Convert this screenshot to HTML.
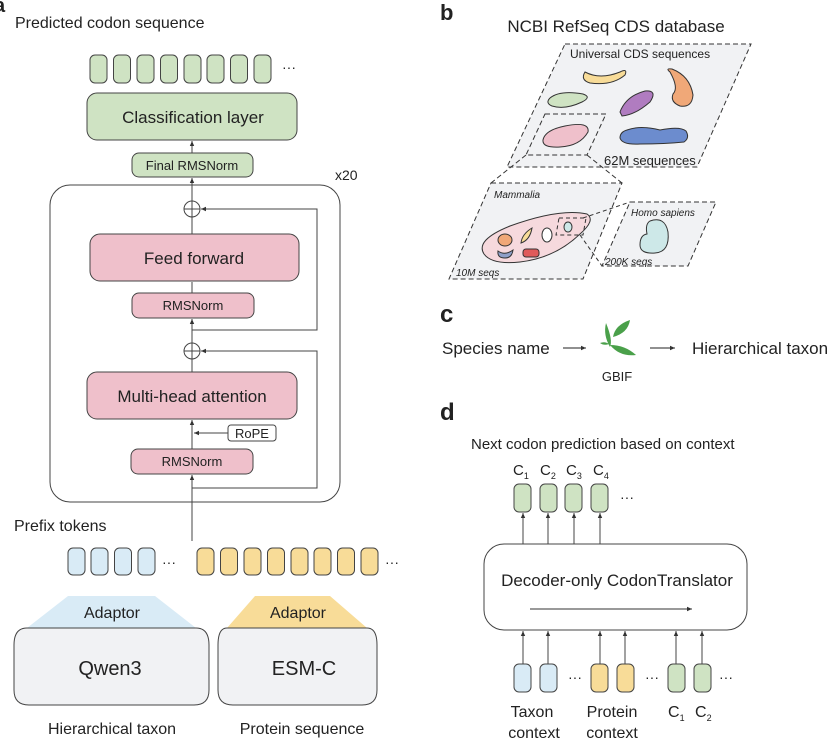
<!DOCTYPE html>
<html><head><meta charset="utf-8"><style>html,body{margin:0;padding:0;background:#fff}svg{display:block}</style></head><body>
<svg width="840" height="748" viewBox="0 0 840 748" xmlns="http://www.w3.org/2000/svg" font-family="Liberation Sans, Arial, sans-serif" fill="#222">
<defs><marker id="ar" markerWidth="6" markerHeight="6" refX="5" refY="3" orient="auto"><path d="M0,0.8 L5,3 L0,5.2z" fill="#333"/></marker></defs>
<text x="-6" y="12" font-size="20" font-weight="bold">a</text>
<text x="15" y="28" font-size="16">Predicted codon sequence</text>
<g fill="#cfe3c3" stroke="#444" stroke-width="1">
<rect x="90" y="55" width="17" height="28" rx="5"/><rect x="113.5" y="55" width="17" height="28" rx="5"/><rect x="137" y="55" width="17" height="28" rx="5"/><rect x="160.5" y="55" width="17" height="28" rx="5"/><rect x="184" y="55" width="17" height="28" rx="5"/><rect x="207" y="55" width="17" height="28" rx="5"/><rect x="230.5" y="55" width="17" height="28" rx="5"/><rect x="254" y="55" width="17" height="28" rx="5"/>
<rect x="87" y="93" width="210" height="47" rx="10"/>
<rect x="132" y="153" width="121" height="24" rx="7"/>
</g>
<text x="282" y="72" font-size="14">···</text>
<text x="193" y="123" font-size="17" text-anchor="middle">Classification layer</text>
<text x="192" y="170" font-size="13" text-anchor="middle">Final RMSNorm</text>
<text x="335" y="180" font-size="14">x20</text>
<rect x="50" y="185" width="290" height="317" rx="20" fill="none" stroke="#444"/>
<g stroke="#444" fill="none" stroke-width="1">
<line x1="192" y1="541" x2="192" y2="475" marker-end="url(#ar)"/>
<line x1="192" y1="449" x2="192" y2="420" marker-end="url(#ar)"/>
<line x1="192" y1="372" x2="192" y2="359"/>
<line x1="192" y1="343" x2="192" y2="319" marker-end="url(#ar)"/>
<line x1="192" y1="293" x2="192" y2="282"/>
<line x1="192" y1="234" x2="192" y2="217"/>
<line x1="192" y1="201" x2="192" y2="178" marker-end="url(#ar)"/>
<line x1="192" y1="153" x2="192" y2="141" marker-end="url(#ar)"/>
<circle cx="192" cy="209" r="8"/><line x1="184" y1="209" x2="200" y2="209"/><line x1="192" y1="201" x2="192" y2="217"/>
<circle cx="192" cy="351" r="8"/><line x1="184" y1="351" x2="200" y2="351"/><line x1="192" y1="343" x2="192" y2="359"/>
<polyline points="192,330 317,330 317,209 201,209" marker-end="url(#ar)"/>
<polyline points="192,488 317,488 317,351 201,351" marker-end="url(#ar)"/>
<line x1="228" y1="433" x2="194" y2="433" marker-end="url(#ar)"/>
<rect x="228" y="425" width="48" height="16" rx="3" fill="#fff"/>
</g>
<g fill="#efc0cb" stroke="#444">
<rect x="90" y="234" width="209" height="47" rx="10"/>
<rect x="132" y="293" width="122" height="25" rx="7"/>
<rect x="87" y="372" width="210" height="47" rx="10"/>
<rect x="131" y="449" width="122" height="25" rx="7"/>
</g>
<text x="194" y="264" font-size="17" text-anchor="middle">Feed forward</text>
<text x="193" y="310" font-size="13" text-anchor="middle">RMSNorm</text>
<text x="192" y="402" font-size="17" text-anchor="middle">Multi-head attention</text>
<text x="252" y="438" font-size="13" text-anchor="middle">RoPE</text>
<text x="192" y="466" font-size="13" text-anchor="middle">RMSNorm</text>
<text x="14" y="531" font-size="16">Prefix tokens</text>
<g stroke="#444" fill="#d9ebf6">
<rect x="68" y="548" width="17" height="27" rx="5"/><rect x="91" y="548" width="17" height="27" rx="5"/><rect x="114.5" y="548" width="17" height="27" rx="5"/><rect x="138" y="548" width="17" height="27" rx="5"/>
</g>
<g stroke="#444" fill="#f8dc98">
<rect x="197" y="548" width="17" height="27" rx="5"/><rect x="220.5" y="548" width="17" height="27" rx="5"/><rect x="244" y="548" width="17" height="27" rx="5"/><rect x="267.5" y="548" width="17" height="27" rx="5"/><rect x="291" y="548" width="17" height="27" rx="5"/><rect x="314" y="548" width="17" height="27" rx="5"/><rect x="337.5" y="548" width="17" height="27" rx="5"/><rect x="361" y="548" width="17" height="27" rx="5"/>
</g>
<text x="162" y="567" font-size="14">···</text>
<text x="385" y="567" font-size="14">···</text>
<polygon points="68,596 155,596 196,628 27,628" fill="#d9ebf6"/>
<polygon points="255,596 330,596 367,628 227,628" fill="#f8dc98"/>
<g stroke="#444" fill="#f1f2f4">
<path d="M27,628 L196,628 Q209,628 209,645 L209,690 Q209,705 194,705 L29,705 Q14,705 14,690 L14,645 Q14,628 27,628z"/>
<path d="M227,628 L367,628 Q377,628 377,645 L377,690 Q377,705 362,705 L233,705 Q218,705 218,690 L218,645 Q218,628 227,628z"/>
</g>
<text x="112" y="618" font-size="16" text-anchor="middle">Adaptor</text>
<text x="298" y="618" font-size="16" text-anchor="middle">Adaptor</text>
<text x="110" y="675" font-size="20" text-anchor="middle">Qwen3</text>
<text x="304" y="675" font-size="20" text-anchor="middle">ESM-C</text>
<text x="112" y="734" font-size="16" text-anchor="middle">Hierarchical taxon</text>
<text x="302" y="734" font-size="16" text-anchor="middle">Protein sequence</text>
<text x="440" y="20" font-size="22" font-weight="bold">b</text>
<text x="616" y="32" font-size="17" text-anchor="middle">NCBI RefSeq CDS database</text>
<g stroke="#333" stroke-dasharray="5,3" fill="#f1f2f4">
<polygon points="565,44 751,44 697,167 507,167"/>
<polygon points="545,114 606,114 587,155 526,155" fill="none"/>
<line x1="526" y1="155" x2="491" y2="183" fill="none"/>
<line x1="587" y1="155" x2="622" y2="183" fill="none"/>
<polygon points="491,183 622,183 583,279 449,279"/>
<polygon points="630,202 716,202 688,266 602,266"/>
</g>
<text x="570" y="58" font-size="12">Universal CDS sequences</text>
<text x="604" y="165" font-size="13">62M sequences</text>
<text x="494" y="198" font-size="10" font-style="italic">Mammalia</text>
<text x="631" y="216" font-size="10" font-style="italic">Homo sapiens</text>
<text x="605" y="265" font-size="10" font-style="italic">200K seqs</text>
<text x="456" y="276" font-size="10" font-style="italic">10M seqs</text>
<g stroke="#333" stroke-width="1">
<path d="M585,72 Q600,80 620,72 Q628,68 625,75 Q612,86 590,83 Q580,80 585,72z" fill="#f8dc98"/>
<path d="M550,98 Q560,90 583,94 Q592,97 582,102 Q565,110 552,106 Q545,103 550,98z" fill="#cfe3c3"/>
<path d="M620,112 Q626,96 645,91 Q658,90 650,102 Q635,115 622,116z" fill="#b07cc0"/>
<path d="M670,72 Q665,68 672,69 Q690,76 693,95 Q692,108 680,106 Q670,102 673,94 Q679,88 670,72z" fill="#f0a878"/>
<path d="M543,140 Q545,130 565,126 Q590,121 588,132 Q580,146 560,147 Q542,148 543,140z" fill="#efc0cb"/>
<path d="M627,130 Q640,125 660,130 Q680,126 686,131 Q690,138 684,142 Q665,144 640,144 Q622,145 620,138 Q620,132 627,130z" fill="#6c8cce"/>
<path d="M484,254 Q475,240 510,226 Q560,208 587,214 Q596,220 580,234 Q555,258 520,262 Q492,265 484,254z" fill="#f6d9dd"/>
<ellipse cx="505" cy="240" rx="7" ry="6" fill="#f0a878"/>
<path d="M521,243 Q522,234 532,228 Q530,240 521,243z" fill="#f8dc98"/>
<ellipse cx="547" cy="235" rx="5" ry="7" fill="#fff"/>
<path d="M498,251 Q505,256 513,250 Q512,258 505,258 Q497,258 498,251z" fill="#8fa0c8"/>
<rect x="523" y="249" width="16" height="8" rx="3" fill="#e05a5a"/>
<ellipse cx="568" cy="227" rx="4" ry="5" fill="#cde8e8"/>
<path d="M650,221 Q665,216 668,232 Q670,252 655,253 Q640,254 640,245 Q640,235 647,234 Q645,224 650,221z" fill="#cde8e8"/>
</g>
<g stroke="#333" stroke-dasharray="4,3" fill="none">
<polygon points="559,218 586,218 583,235 556,235"/>
<line x1="583" y1="218" x2="630" y2="202"/>
<line x1="580" y1="235" x2="602" y2="266"/>
</g>
<text x="440" y="322" font-size="24" font-weight="bold">c</text>
<text x="442" y="354" font-size="17">Species name</text>
<line x1="563" y1="348" x2="586" y2="348" stroke="#222" marker-end="url(#ar)"/>
<path d="M606,323 Q603,335 610,347 Q613,340 606,323z" fill="#4aa04a"/>
<path d="M613,337 Q615,325 630,320 Q628,333 613,337z" fill="#4aa04a"/>
<path d="M610,345 Q625,345 636,355 Q620,357 610,345z" fill="#4aa04a"/>
<path d="M600,343 Q605,341 609,344 Q604,346 600,343z" fill="#4aa04a"/>
<text x="617" y="381" font-size="13" text-anchor="middle">GBIF</text>
<line x1="650" y1="348" x2="675" y2="348" stroke="#222" marker-end="url(#ar)"/>
<text x="692" y="354" font-size="17">Hierarchical taxon</text>
<text x="440" y="420" font-size="24" font-weight="bold">d</text>
<text x="471" y="449" font-size="15">Next codon prediction based on context</text>
<g font-size="15">
<text x="513" y="475">C<tspan font-size="9" dy="4">1</tspan></text>
<text x="540" y="475">C<tspan font-size="9" dy="4">2</tspan></text>
<text x="566" y="475">C<tspan font-size="9" dy="4">3</tspan></text>
<text x="593" y="475">C<tspan font-size="9" dy="4">4</tspan></text>
</g>
<g stroke="#444" fill="#cfe3c3">
<rect x="514" y="484" width="17" height="28" rx="5"/><rect x="540" y="484" width="17" height="28" rx="5"/><rect x="565" y="484" width="17" height="28" rx="5"/><rect x="591" y="484" width="17" height="28" rx="5"/>
<rect x="668" y="664" width="17" height="28" rx="5"/><rect x="694" y="664" width="17" height="28" rx="5"/>
</g>
<text x="620" y="502" font-size="14">···</text>
<rect x="484" y="544" width="263" height="86" rx="20" fill="none" stroke="#444"/>
<text x="617" y="586" font-size="17" text-anchor="middle">Decoder-only CodonTranslator</text>
<line x1="530" y1="609" x2="692" y2="609" stroke="#333" marker-end="url(#ar)"/>
<g stroke="#444">
<line x1="523" y1="544" x2="523" y2="513" marker-end="url(#ar)"/>
<line x1="548" y1="544" x2="548" y2="513" marker-end="url(#ar)"/>
<line x1="574" y1="544" x2="574" y2="513" marker-end="url(#ar)"/>
<line x1="600" y1="544" x2="600" y2="513" marker-end="url(#ar)"/>
<line x1="523" y1="664" x2="523" y2="631" marker-end="url(#ar)"/>
<line x1="548" y1="664" x2="548" y2="631" marker-end="url(#ar)"/>
<line x1="600" y1="664" x2="600" y2="631" marker-end="url(#ar)"/>
<line x1="625" y1="664" x2="625" y2="631" marker-end="url(#ar)"/>
<line x1="676" y1="664" x2="676" y2="631" marker-end="url(#ar)"/>
<line x1="702" y1="664" x2="702" y2="631" marker-end="url(#ar)"/>
</g>
<g stroke="#444">
<rect x="514" y="664" width="17" height="28" rx="5" fill="#d9ebf6"/><rect x="540" y="664" width="17" height="28" rx="5" fill="#d9ebf6"/>
<rect x="591" y="664" width="17" height="28" rx="5" fill="#f8dc98"/><rect x="617" y="664" width="17" height="28" rx="5" fill="#f8dc98"/>
</g>
<text x="568" y="682" font-size="14">···</text>
<text x="645" y="682" font-size="14">···</text>
<text x="719" y="682" font-size="14">···</text>
<g font-size="16" text-anchor="middle">
<text x="532" y="717">Taxon</text><text x="534" y="738">context</text>
<text x="612" y="717">Protein</text><text x="612" y="738">context</text>
</g>
<g font-size="16">
<text x="668" y="717">C<tspan font-size="9" dy="4">1</tspan></text>
<text x="695" y="717">C<tspan font-size="9" dy="4">2</tspan></text>
</g>
</svg>
</body></html>
